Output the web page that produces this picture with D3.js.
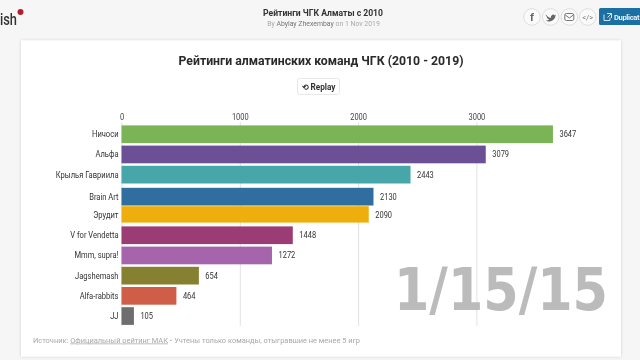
<!DOCTYPE html>
<html><head><meta charset="utf-8">
<script src="https://cdn.jsdelivr.net/npm/d3@7/dist/d3.min.js"></script>
<style>html,body{margin:0;padding:0;background:#f6f6f6;overflow:hidden}svg{display:block;filter:blur(.35px)}text{font-family:Roboto,sans-serif}</style>
</head><body><svg id="c" width="640" height="360"></svg>
<script>
const teamLabels=["Ничоси","Альфа","Крылья Гавриила","Brain Art","Эрудит","V for Vendetta","Mmm, supra!","Jagshemash","Alfa-rabbits","JJ"];
const scores=[3647,3079,2443,2130,2090,1448,1272,654,464,105];
const ranks=[0,1,2,3.09,4,5,6,7,8,9];
const colors=["#7bb357","#6b5096","#46a6a9","#2f6e9e","#eeae0d","#9b3d74","#a564ab","#868031","#cf5d48","#6e6e6e"];
const axisTicks=[0,1000,2000,3000];
const dateLabel="1/15/15";
const pageTitle="Рейтинги ЧГК Алматы с 2010";
const byAuthor="Abylay Zhexembay";
const chartTitle="Рейтинги алматинских команд ЧГК (2010 - 2019)";

const svg=d3.select("#c");
// page header
svg.append("text").attr("x",0).attr("y",25).attr("font-size",17).attr("font-weight",500).attr("fill","#333").attr("textLength",17).attr("lengthAdjust","spacingAndGlyphs").text("ish");
svg.append("circle").attr("cx",20.5).attr("cy",12).attr("r",3).attr("fill","#b0202e");
svg.append("text").attr("x",263).attr("y",16).attr("font-size",9.4).attr("font-weight",700).attr("fill","#333").attr("textLength",120).attr("lengthAdjust","spacingAndGlyphs").text(pageTitle);
const by=svg.append("text").attr("x",323.5).attr("y",26).attr("text-anchor","middle").attr("font-size",6.9).attr("fill","#aaa");
by.append("tspan").text("By ");by.append("tspan").attr("fill","#777").text(byAuthor);by.append("tspan").text(" on 1 Nov 2019");
[532,550.7,569.3,587.7].forEach((x,i)=>{
  svg.append("circle").attr("cx",x).attr("cy",17).attr("r",8.3).attr("fill","#fafafa").attr("stroke","#ddd");
  if(i===0)svg.append("text").attr("x",x).attr("y",21).attr("text-anchor","middle").attr("font-size",11).attr("font-weight",700).attr("fill","#666").text("f");
  if(i===1)svg.append("path").attr("transform",`translate(${x},17)`).attr("d","M-5,-2.5C-3,0-1,1 0,1C0,-2 3,-3.5 4,-1.5L5.2,-2.5L4.6,-.6C4,3-1,6-5,3.5C-3,3.5-2,3-1.5,2.4C-3,2-4,.5-4,-.5C-5,-1-5,-2-5,-2.5Z").attr("fill","#666");
  if(i===2){svg.append("rect").attr("x",x-4.5).attr("y",13.5).attr("width",9).attr("height",7).attr("rx",1.5).attr("fill","none").attr("stroke","#777");
    svg.append("path").attr("d",`M${x-4},15L${x},18L${x+4},15`).attr("fill","none").attr("stroke","#777");}
  if(i===3)svg.append("text").attr("x",x).attr("y",20).attr("text-anchor","middle").attr("font-size",7.5).attr("fill","#777").text("</>");
});
svg.append("rect").attr("x",599).attr("y",8).attr("width",50).attr("height",17).attr("rx",1.5).attr("fill","#1c6fa3");
svg.append("path").attr("d","M604,14.5v6h6v-3M607,13.5h4.5v4.5M611.5,13.5l-4,4").attr("fill","none").attr("stroke","#cfe3ef");
svg.append("text").attr("x",614).attr("y",20).attr("font-size",7.6).attr("font-weight",700).attr("fill","#e8f1f7").attr("textLength",25.5).text("Duplicat");

// card
const defs=svg.append("defs");
const f=defs.append("filter").attr("id","sh").attr("x","-5%").attr("y","-5%").attr("width","110%").attr("height","110%");
f.append("feDropShadow").attr("dx",0).attr("dy",0).attr("stdDeviation",1.6).attr("flood-color","#000").attr("flood-opacity",0.16);
svg.append("rect").attr("x",21).attr("y",40.5).attr("width",600).attr("height",316).attr("fill","#fff").attr("filter","url(#sh)");
svg.append("text").attr("x",178.5).attr("y",65).attr("font-size",13.6).attr("font-weight",700).attr("fill","#2a2a2a").attr("textLength",285).attr("lengthAdjust","spacingAndGlyphs").text(chartTitle);
svg.append("rect").attr("x",297.5).attr("y",78.5).attr("width",42).attr("height",16).attr("rx",2).attr("fill","#fff").attr("stroke","#e8e8e8");
svg.append("text").attr("x",318.5).attr("y",89.5).attr("text-anchor","middle").attr("font-size",8.2).attr("font-weight",700).attr("fill","#333").text("⟲ Replay");

// chart
const x=d3.scaleLinear().domain([0,3000]).range([121.5,476.4]);
const y=d3.scaleLinear().domain([0,9]).range([125.4,307.2]);
const bh=17.7, squeeze=0.88;
const gridG=svg.append("g").attr("transform","translate(0,122)")
 .call(d3.axisTop(x).tickValues(axisTicks).tickFormat(d3.format("d")).tickSize(-204).tickPadding(4));
gridG.select(".domain").remove();
gridG.selectAll("line").attr("stroke","#e2e2e2");
gridG.selectAll("text").attr("font-size",8.5).attr("fill","#444").attr("y",0).attr("dy",0).attr("transform",`translate(0,-2) scale(${squeeze},1)`).style("font-family","Roboto,sans-serif");
const idx=d3.range(teamLabels.length);
svg.append("g").selectAll("rect").data(idx).join("rect")
 .attr("x",x(0)).attr("y",i=>y(ranks[i])).attr("width",i=>x(scores[i])-x(0)).attr("height",i=>teamLabels[i]==="Эрудит"?16.4:bh).attr("fill",i=>colors[i]);
svg.append("g").selectAll("text").data(idx).join("text")
 .attr("transform",i=>`translate(118.5,${y(ranks[i])+bh/2+3}) scale(${squeeze},1)`).attr("text-anchor","end").attr("font-size",8.6).attr("fill","#333").text(i=>teamLabels[i]);
svg.append("g").selectAll("text").data(idx).join("text")
 .attr("transform",i=>`translate(${x(scores[i])+6.5},${y(ranks[i])+bh/2+3}) scale(${squeeze},1)`).attr("font-size",8.5).attr("fill","#333").text(i=>scores[i]);
svg.append("text").attr("x",394).attr("y",310).attr("font-size",58).attr("font-weight",700).attr("fill","#bbb").attr("textLength",214).attr("lengthAdjust","spacingAndGlyphs").style("font-family",'"DejaVu Sans",sans-serif').text(dateLabel);
// footer
const ft=svg.append("text").attr("x",33).attr("y",342.5).attr("font-size",7.45).attr("fill","#a8a8a8");
ft.append("tspan").text("Источник: ");
ft.append("tspan").attr("text-decoration","underline").text("Официальный рейтинг МАК");
ft.append("tspan").text(" • Учтены только команды, отыгравшие не менее 5 игр");
</script></body></html>
